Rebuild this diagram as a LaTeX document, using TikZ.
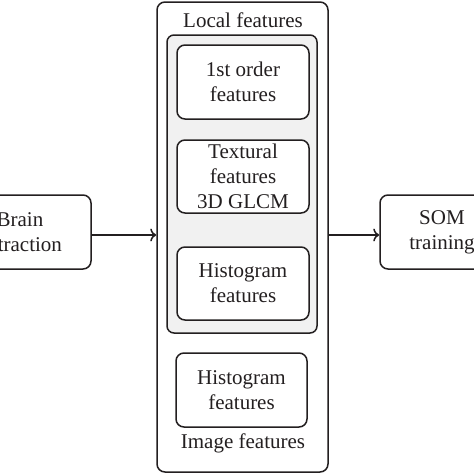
\documentclass[tikz,border=0pt]{standalone}
\usepackage{fontspec}
\setmainfont{Liberation Serif}
\usetikzlibrary{arrows.meta}
\definecolor{ink}{HTML}{231F20}
\definecolor{panel}{HTML}{F1F1F1}
\begin{document}
\begin{tikzpicture}[x=1pt,y=-1pt,
  every node/.style={font=\fontsize{21}{25}\selectfont, text=ink, align=center, inner sep=0pt},
  rbox/.style={draw=ink, line width=1.5pt, rounded corners=8pt, fill=white, rectangle},
  conn/.style={draw=ink, line width=1.5pt, -{To[length=6pt,width=13pt,line width=1.5pt]}}]
\useasboundingbox (0,0) rectangle (474,474);
\node[rbox, minimum width=171pt, minimum height=470pt] (outer) at (242.5,237) {};
\node[rbox, fill=panel, rounded corners=7pt, minimum width=150pt, minimum height=298pt] (inner) at (242,184) {};
\node (loc) at (243,20) {Local features};
\node[rbox, minimum width=132pt, minimum height=74pt] (b1) at (243,82) {1st order\\features};
\node[rbox, minimum width=132pt, minimum height=73pt] (b2) at (243,176.5) {Textural\\features\\3D GLCM};
\node[rbox, minimum width=132pt, minimum height=73pt] (b3) at (243,283.5) {Histogram\\features};
\node[rbox, minimum width=131pt, minimum height=74pt] (b4) at (241.5,390) {Histogram\\features};
\node (img) at (243,443) {Image features};
\node[rbox, minimum width=142pt, minimum height=74pt] (brain) at (20,232) {Brain\\extraction};
\node[rbox, minimum width=124pt, minimum height=74pt] (som) at (442,232) {SOM\\training};
\draw[conn] (brain.east |- 0,235) -- (outer.west |- 0,235);
\draw[conn] (outer.east |- 0,235) -- (som.west |- 0,235);
\end{tikzpicture}
\end{document}
